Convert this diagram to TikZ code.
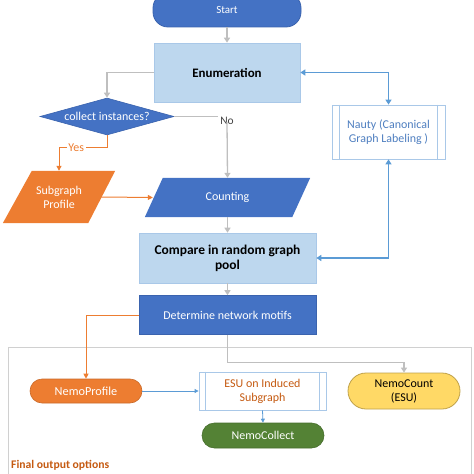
\documentclass[tikz,border=0pt]{standalone}
\usepackage{fontspec}
\setmainfont{Carlito}
\usetikzlibrary{shapes.geometric,arrows.meta,backgrounds}
\definecolor{dblue}{HTML}{4472C4}
\definecolor{dbluebd}{HTML}{3A63AE}
\definecolor{lblue}{HTML}{BDD7EE}
\definecolor{lbluebd}{HTML}{A9C8E8}
\definecolor{mblue}{HTML}{5B9BD5}
\definecolor{nautytxt}{HTML}{4F7FC0}
\definecolor{orng}{HTML}{ED7D31}
\definecolor{brorng}{HTML}{C55A11}
\definecolor{ggray}{HTML}{BFBFBF}
\definecolor{boxgray}{HTML}{D0D0D0}
\definecolor{grn}{HTML}{548235}
\definecolor{yel}{HTML}{FFD966}
\definecolor{yelbd}{HTML}{BFA14A}
\begin{document}
\begin{tikzpicture}[x=1bp,y=-1bp,
  fs/.style={font=\fontsize{#1}{14}\selectfont},
  base/.style={inner sep=0pt, align=center},
  term/.style={base, rounded corners=#1},
  rectbox/.style={base, rectangle},
  ppbox/.style={base, rectangle, draw=lbluebd, fill=white, line width=0.8bp},
  garrow/.style={draw=ggray, line width=1.3bp, -{Triangle[length=5bp,width=6bp]}},
  gline/.style={draw=ggray, line width=1.3bp},
  oarrow/.style={draw=orng, line width=1bp, -{Triangle[length=5bp,width=5bp]}},
  barrow/.style={draw=mblue, line width=1.6bp, {Triangle[length=5bp,width=6bp]}-{Triangle[length=5bp,width=6bp]}},
  tbarrow/.style={draw=mblue, line width=0.8bp, -{Triangle[length=4bp,width=4bp]}},
  innerline/.style={draw=lbluebd, line width=0.8bp}
]
\clip (0,0) rectangle (474,474);
\useasboundingbox (0,0) rectangle (474,474);

% final output box
\draw[boxgray, line width=1bp] (8,347) rectangle (471,490);
\node[base, anchor=west, text=brorng, font=\bfseries\fontsize{11.7}{13}\selectfont] (flabel) at (11,465) {Final output options};

% nodes
\node[term=15bp, fill=dblue, draw=dbluebd, line width=0.8bp, minimum width=148bp, minimum height=34bp, text=white, fs=11] (start) at (227,10) {Start};
\node[rectbox, fill=lblue, draw=lbluebd, line width=0.6bp, minimum width=146bp, minimum height=59bp, font=\bfseries\fontsize{13}{15}\selectfont] (enum) at (227,72.5) {Enumeration};
\node[base, diamond, aspect=3.6, fill=dblue, draw=dbluebd, line width=0.6bp, minimum width=134bp, minimum height=37bp, text=white, fs=12] (diam) at (107,116.5) {collect instances?};
\node[base, fs=11.5, text=black!75] (no) at (227,121) {No};
\node[rectbox, minimum width=165bp, minimum height=39bp, text=white, fs=12] (count) at (227.5,197.5) {Counting};
\node[rectbox, minimum width=112bp, minimum height=52bp, text=white, fs=12] (subg) at (59,197) {Subgraph\\Profile};
\node[ppbox, minimum width=113bp, minimum height=54bp, text=nautytxt, fs=12] (nauty) at (388.5,132) {Nauty (Canonical\\Graph Labeling )};
\node[rectbox, fill=lblue, draw=lbluebd, line width=0.6bp, minimum width=177bp, minimum height=50bp, font=\bfseries\fontsize{13.5}{15}\selectfont] (comp) at (227.5,258) {Compare in random graph\\pool};
\node[rectbox, fill=dblue, draw=dbluebd, line width=0.6bp, minimum width=177bp, minimum height=39bp, text=white, fs=12] (det) at (227.5,315) {Determine network motifs};
\node[term=12bp, fill=orng, draw=orng!85!black, line width=0.6bp, minimum width=112bp, minimum height=24bp, text=white, fs=12.3] (nprof) at (86,391) {NemoProfile};
\node[ppbox, minimum width=127bp, minimum height=38bp, text=brorng, fs=12] (esu) at (262.5,391) {ESU on Induced\\Subgraph};
\node[term=12.5bp, fill=grn, draw=grn!85!black, line width=0.6bp, minimum width=122bp, minimum height=25bp, text=white, fs=12] (ncoll) at (263,435.5) {NemoCollect};
\node[term=18bp, fill=yel, draw=yelbd, line width=0.8bp, minimum width=112bp, minimum height=36bp, text=black, fs=12] (ncount) at (404,391) {NemoCount\\(ESU)};

% parallelograms and inner lines
\begin{pgfonlayer}{background}
\fill[dblue] ([xshift=18bp]count.north west) -- (count.north east) -- ([xshift=-18bp]count.south east) -- (count.south west) -- cycle;
\fill[orng] ([xshift=29bp]subg.north west) -- (subg.north east) -- ([xshift=-27bp]subg.south east) -- (subg.south west) -- cycle;
\end{pgfonlayer}
\draw[innerline] ([xshift=8bp]nauty.north west) -- ([xshift=8bp]nauty.south west);
\draw[innerline] ([xshift=-8bp]nauty.north east) -- ([xshift=-8bp]nauty.south east);
\draw[innerline] ([xshift=7bp]esu.north west) -- ([xshift=7bp]esu.south west);
\draw[innerline] ([xshift=-7bp]esu.north east) -- ([xshift=-7bp]esu.south east);

% connectors
\draw[garrow] (start.south) -- (enum.north);
\draw[garrow] (enum.west) -| (diam.north);
\draw[gline] (diam.east) -- ([xshift=-2bp]no.west |- diam.east);
\draw[garrow] ([yshift=3bp]no.south) -- (count.north);
\draw[oarrow] (diam.south) -- ++(0,12) -| node[pos=0.32, fill=white, text=orng, inner sep=1.5bp, fs=12] {Yes} (subg.north);
\draw[oarrow] ([xshift=-14bp]subg.east) -- ([xshift=8bp]count.west);
\draw[garrow] (count.south) -- (comp.north);
\draw[garrow] (comp.south) -- (det.north);
\draw[barrow] (enum.east) -| (nauty.north);
\draw[barrow] (nauty.south) |- (comp.east);
\draw[oarrow] (det.west) -| (nprof.north);
\draw[garrow] (det.south) -- ++(0,28) -| (ncount.north);
\draw[tbarrow] (nprof.east) -- (esu.west);
\draw[tbarrow] (esu.south) -- (ncoll.north);
\end{tikzpicture}
\end{document}
